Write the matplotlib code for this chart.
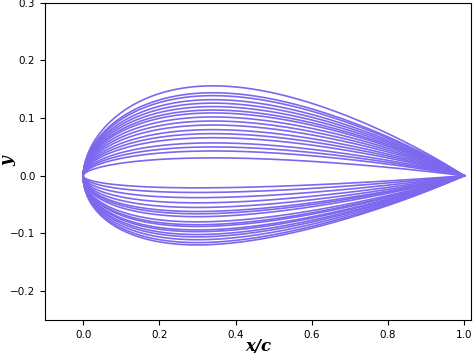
import numpy as np
import matplotlib.pyplot as plt

# pico do extradorso e do intradorso de cada perfil
upper_peak = [0.156, 0.144, 0.139, 0.132, 0.126, 0.120, 0.114, 0.109, 0.102,
              0.095, 0.088, 0.080, 0.073, 0.066, 0.057, 0.050, 0.043, 0.031]
lower_peak = [-0.120, -0.116, -0.111, -0.106, -0.102, -0.097, -0.094, -0.088, -0.085,
              -0.080, -0.071, -0.066, -0.062, -0.055, -0.047, -0.038, -0.029, -0.021]

xticks = [0.0, 0.2, 0.4, 0.6, 0.8, 1.0]
yticks = [-0.2, -0.1, 0.0, 0.1, 0.2, 0.3]

# forma base (espessura NACA de 4 digitos, bordo de fuga fechado)
def naca_shape(x):
    s = 0.2969*np.sqrt(x) - 0.1260*x - 0.3516*x**2 + 0.2843*x**3 - 0.1036*x**4
    return s / 0.1500

x = (1 - np.cos(np.linspace(0, np.pi, 300))) / 2
shape_up = naca_shape(x**1.12)   # extradorso com maximo um pouco mais atras
shape_up = shape_up / shape_up.max()
shape_lo = naca_shape(x)
shape_lo = shape_lo / shape_lo.max()

fig = plt.figure(figsize=(4.74, 3.55), dpi=100)
ax = fig.add_axes([0.095, 0.099, 0.899, 0.893])

for up, lo in zip(upper_peak, lower_peak):
    ax.plot(x, up * shape_up, color="#7B68EE", lw=1.2)
    ax.plot(x, lo * shape_lo, color="#7B68EE", lw=1.2)

ax.set_xlim(-0.1, 1.018)
ax.set_ylim(-0.25, 0.3)
ax.set_xticks(xticks)
ax.set_yticks(yticks)
ax.tick_params(labelsize=7.5)
ax.set_xlabel("x/c", family="serif", style="italic", weight="bold", fontsize=12)
ax.set_ylabel("y", family="serif", style="italic", weight="bold", fontsize=12)
ax.xaxis.set_label_coords(0.5, -0.058)
ax.yaxis.set_label_coords(-0.068, 0.5)

fig.savefig("out.png", dpi=100)
